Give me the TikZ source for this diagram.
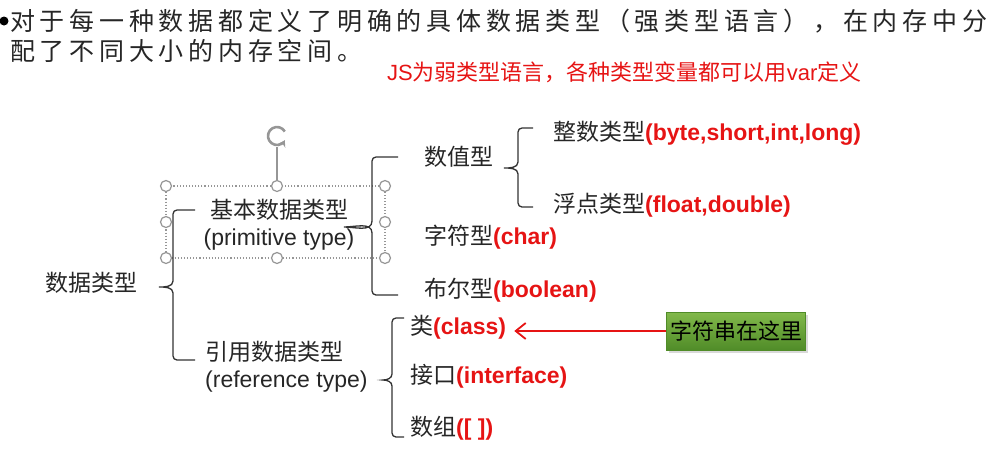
\documentclass[tikz,border=0pt]{standalone}
\usepackage{fontspec}
\setmainfont{Liberation Sans}
\newfontfamily\cjk{Noto Sans CJK SC}
\newfontfamily\cjkw[LetterSpace=19]{Noto Sans CJK SC}
\usetikzlibrary{arrows.meta,shadows}
\definecolor{tred}{RGB}{230,20,20}
\definecolor{hgray}{RGB}{150,150,150}
\definecolor{gtop}{RGB}{130,185,75}
\definecolor{gbot}{RGB}{80,140,40}
\newcommand\mybrace[6]{%
 \draw[brc] (#1+#6,#2) -- (#1+4,#2) to[out=180,in=90] (#1,#2+4) -- (#1,#4-6) to[out=-90,in=0] (#1-#5,#4) to[out=0,in=90] (#1,#4+6) -- (#1,#3-4) to[out=-90,in=180] (#1+4,#3) -- (#1+#6,#3);}
\tikzset{
 brc/.style={line width=1.3pt,draw=black!80},
 lbl/.style={anchor=west,inner sep=0pt,font=\fontsize{23}{27}\selectfont,text=black!85},
 handle/.style={circle,draw=hgray,fill=white,line width=1.2pt,minimum size=11pt,inner sep=0pt},
}
\begin{document}
\begin{tikzpicture}[x=1pt,y=-1pt]
\useasboundingbox (0,0) rectangle (997,459);
\fill[black] (4,21) circle (4.5);
\node[anchor=west,inner sep=0pt,text=black!85] (l1) at (10,21) {\cjkw\fontsize{25}{27}\selectfont 对于每一种数据都定义了明确的具体数据类型（强类型语言），在内存中分};
\node[anchor=west,inner sep=0pt,text=black!85] (l2) at (10,51) {\cjkw\fontsize{25}{27}\selectfont 配了不同大小的内存空间。};
\node[anchor=west,inner sep=0pt,text=tred] (js) at (387,72) {\fontsize{22}{24}\selectfont JS{\cjk 为弱类型语言，各种类型变量都可以用}var{\cjk 定义}};
% selection box
\draw[hgray,dotted,line width=1.1pt] (166,186) rectangle (385,258);
\draw[hgray,line width=1.2pt] (277,147) -- (277,186);
\coordinate (rc) at (277,136);
\draw[hgray,line width=2.6pt,-{Stealth[length=6pt,width=8pt]}] ([shift={(-30:9)}]rc) arc[start angle=-30,end angle=-330,radius=9];
\foreach \p [count=\i] in {(166,186),(277,186),(385,186),(166,222),(385,222),(166,258),(277,258),(385,258)}
 \node[handle] (h\i) at \p {};
% nodes
\node[lbl] (dt) at (45,283) {\cjk 数据类型};
\node[lbl,align=center,anchor=center] (basic) at (279,225) {{\cjk 基本数据类型}\\(primitive type)};
\node[lbl,align=left,anchor=north west] (ref) at (205,341) {{\cjk 引用数据类型}\\(reference type)};
\node[lbl] (num) at (424,157) {\cjk 数值型};
\node[lbl] (int) at (553,133) {{\cjk 整数类型}\textcolor{tred}{\bfseries(byte,short,int,long)}};
\node[lbl] (flt) at (553,205) {{\cjk 浮点类型}\textcolor{tred}{\bfseries(float,double)}};
\node[lbl] (chr) at (424,237) {{\cjk 字符型}\textcolor{tred}{\bfseries(char)}};
\node[lbl] (bool) at (424,290) {{\cjk 布尔型}\textcolor{tred}{\bfseries(boolean)}};
\node[lbl] (cls) at (410,327) {{\cjk 类}\textcolor{tred}{\bfseries(class)}};
\node[lbl] (itf) at (410,376) {{\cjk 接口}\textcolor{tred}{\bfseries(interface)}};
\node[lbl] (arr) at (410,428) {{\cjk 数组}\textcolor{tred}{\bfseries([ ])}};
\node[draw=gbot,line width=0.6pt,top color=gtop,bottom color=gbot,minimum width=138pt,minimum height=38pt,drop shadow={opacity=0.3},font=\fontsize{22}{24}\selectfont] (str) at (736,331) {\cjk 字符串在这里};
\coordinate (tip) at ([xshift=8pt]cls.east |- str.west);
\draw[tred,line width=1.8pt,-{Straight Barb[length=10pt,width=16pt]}] (str.west) -- (tip);
% braces
\mybrace{173}{210}{360}{287}{14}{22}
\mybrace{372}{157}{295}{227}{28}{26}
\mybrace{518}{128}{207}{168}{14}{15}
\mybrace{392}{318}{437}{380}{9}{12}
\end{tikzpicture}
\end{document}
